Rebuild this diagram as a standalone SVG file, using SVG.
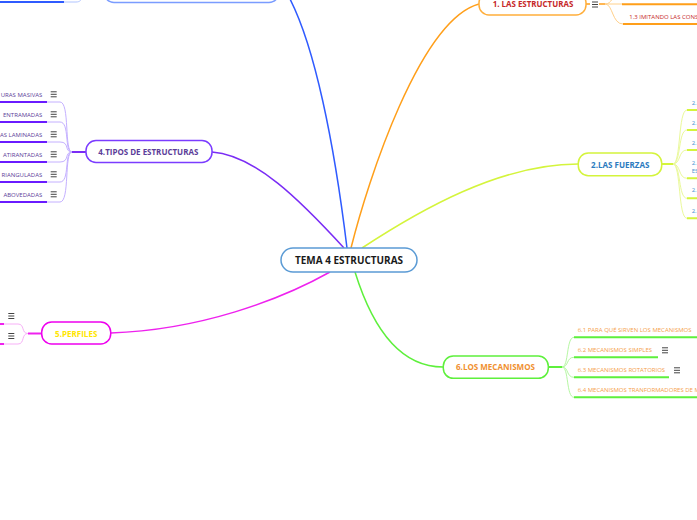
<svg xmlns="http://www.w3.org/2000/svg" xmlns:xlink="http://www.w3.org/1999/xlink" width="697" height="520" viewBox="0 0 697 520">
<style>
text{font-family:"Open Sans","Liberation Sans",sans-serif}
.t{font-weight:bold;font-size:8px;text-anchor:middle}
.s{font-size:6px}
.node{fill:#fff;stroke-width:1.5}
.main{fill:none;stroke-width:1.5}
.lt{fill:none;stroke-width:1}
.st{fill:none;stroke-width:2}
</style>
<defs>
<symbol id="menu" viewBox="0 0 6 6" overflow="visible">
<path d="M0,0.5H6M0,3H6M0,5.5H6" stroke="#444" stroke-width="1" fill="none"/>
</symbol>
</defs>
<rect width="697" height="520" fill="#fff"/>
<g id="connectors">
<path class="main" stroke="#7a2cf5" d="M212,152 C255,155 300,200 344,248"/>
<path class="main" stroke="#2f5bff" d="M347,248 C335,150 315,40 285,-10"/>
<path class="main" stroke="#ff9f1a" d="M351,248 C368,180 420,20 479,4"/>
<path class="main" stroke="#d4f43c" d="M362,248 C420,210 500,164 578,164"/>
<path class="main" stroke="#ee22ee" d="M110.7,333 C200,330 280,300 330,272"/>
<path class="main" stroke="#5ef03c" d="M355,272 C370,320 395,367 443,367"/>
<!-- 4 children -->
<path class="st" stroke="#7a2cf5" d="M86,152H72"/>
<g stroke="#c4b0ff" class="lt">
<path d="M72,152 C64,152 70,102 60,102H47"/>
<path d="M72,152 C64,152 70,122 60,122H47"/>
<path d="M72,152 C64,152 70,142 60,142H47"/>
<path d="M72,152 C64,152 70,162 60,162H47"/>
<path d="M72,152 C64,152 70,182 60,182H47"/>
<path d="M72,152 C64,152 70,202 60,202H47"/>
</g>
<g stroke="#6a1bff" class="st">
<path d="M0,102H47M0,122H47M0,142H47M0,162H47M0,182H47M0,202H47"/>
</g>
<!-- 5 children -->
<path class="st" stroke="#ee22ee" d="M41.7,333.5H28"/>
<g stroke="#f7b0f7" class="lt">
<path d="M28,333.5 C21,333.5 25,324 18,324H4"/>
<path d="M28,333.5 C21,333.5 25,344 18,344H4"/>
</g>
<path class="st" stroke="#ee22ee" d="M0,324H4M0,344H4"/>
<!-- 6 children -->
<path class="st" stroke="#5ef03c" d="M548.3,367H562"/>
<g stroke="#b6f7a3" class="lt">
<path d="M562,367 C569,367 566,337.3 574,337.3"/>
<path d="M562,367 C569,367 566,357.3 574,357.3"/>
<path d="M562,367 C569,367 566,377.3 574,377.3"/>
<path d="M562,367 C569,367 566,397.3 574,397.3"/>
</g>
<g stroke="#5ef03c" class="st">
<path d="M574,337.3H697M574,357.3H658M574,377.3H669M574,397.3H697"/>
</g>
<!-- 2 children -->
<path class="st" stroke="#d4f43c" d="M661.7,164H673"/>
<g stroke="#eaf99a" class="lt">
<path d="M673,164 C681,164 678,110 687,110"/>
<path d="M673,164 C681,164 678,130 687,130"/>
<path d="M673,164 C681,164 678,150 687,150"/>
<path d="M673,164 C681,164 678,178.3 687,178.3"/>
<path d="M673,164 C681,164 678,198.3 687,198.3"/>
<path d="M673,164 C681,164 678,218.3 687,218.3"/>
</g>
<g stroke="#d4f43c" class="st">
<path d="M687,110H697M687,130H697M687,150H697M687,178.3H697M687,198.3H697M687,218.3H697"/>
</g>
<!-- 1 children -->
<path class="main" stroke="#ff9f1a" d="M586,4H590M599,4H605"/>
<g stroke="#ffd08a" class="lt">
<path d="M605,4 C612,4 612,-4 620,-10"/>
<path d="M605,4 H623"/>
<path d="M605,4 C613,4 612,24 623,24"/>
</g>
<path class="st" stroke="#ff9f1a" d="M622,4.3H697M623,24H697"/>
<!-- top blue node child -->
<path class="st" stroke="#2f5bff" d="M0,2H64"/>
<path class="lt" stroke="#b0c4ff" d="M64,2H76 C80,2 82,0 83,-6"/>
</g>
<g id="node-center">
<rect class="node" x="281" y="248" width="136" height="24" rx="12" stroke="#5b9bd5"/>
<text class="t" x="349" y="264" style="font-size:10px" fill="#1a1a1a" textLength="108" lengthAdjust="spacingAndGlyphs">TEMA 4 ESTRUCTURAS</text>
</g>
<g id="node-top">
<rect class="node" x="104" y="-19.5" width="175" height="22" rx="10" stroke="#7a9cff"/>
</g>
<g id="node-1">
<rect class="node" x="479" y="-7" width="107" height="22" rx="10" stroke="#ffae3b"/>
<text class="t" x="533" y="6.7" fill="#c62828" textLength="80.6" lengthAdjust="spacingAndGlyphs">1. LAS ESTRUCTURAS</text>
<use xlink:href="#menu" x="592" y="1.5" width="6" height="6" style="stroke:#335f55"/>
<text class="s" x="629.3" y="18.5" fill="#c62828">1.3 IMITANDO LAS CONS</text>
</g>
<g id="node-2">
<rect class="node" x="578.3" y="153" width="83.4" height="22.7" rx="10" stroke="#d4f43c"/>
<text class="t" x="620.2" y="167.7" fill="#2b7bbf" textLength="58.3" lengthAdjust="spacingAndGlyphs">2.LAS FUERZAS</text>
<g class="s" fill="#3d8fd0">
<text x="691.7" y="105">2.</text>
<text x="691.7" y="124.7">2.</text>
<text x="691.7" y="144.7">2.</text>
<text x="691.7" y="164.7">2.</text>
<text x="691.7" y="173">ES</text>
<text x="691.7" y="192.3">2.</text>
<text x="691.7" y="213">2.</text>
</g>
</g>
<g id="node-4">
<rect class="node" x="86" y="140.5" width="126" height="22" rx="10" stroke="#7b3cff"/>
<text class="t" x="148.3" y="155" fill="#5c3d99" textLength="100" lengthAdjust="spacingAndGlyphs">4.TIPOS DE ESTRUCTURAS</text>
<g class="s" fill="#5c3d99" text-anchor="end">
<text x="42.3" y="96.7">URAS MASIVAS</text>
<text x="42.3" y="116.7">ENTRAMADAS</text>
<text x="42.3" y="136.7">AS LAMINADAS</text>
<text x="42.3" y="156.7">ATIRANTADAS</text>
<text x="42.3" y="176.7">RIANGULADAS</text>
<text x="42.3" y="196.7">ABOVEDADAS</text>
</g>
<use xlink:href="#menu" x="50.7" y="91.3" width="6" height="6"/>
<use xlink:href="#menu" x="50.7" y="111.3" width="6" height="6"/>
<use xlink:href="#menu" x="50.7" y="131.3" width="6" height="6"/>
<use xlink:href="#menu" x="50.7" y="151.3" width="6" height="6"/>
<use xlink:href="#menu" x="50.7" y="171.3" width="6" height="6"/>
<use xlink:href="#menu" x="50.7" y="191.3" width="6" height="6"/>
</g>
<g id="node-5">
<rect class="node" x="41.7" y="322" width="69" height="22" rx="10" stroke="#ee00ee"/>
<text class="t" x="76.2" y="336.7" fill="#ffe600" textLength="42.3" lengthAdjust="spacingAndGlyphs">5.PERFILES</text>
<use xlink:href="#menu" x="8.3" y="313" width="6" height="6"/>
<use xlink:href="#menu" x="8.3" y="333" width="6" height="6"/>
</g>
<g id="node-6">
<rect class="node" x="443.3" y="356" width="105" height="22.3" rx="10" stroke="#5ef03c"/>
<text class="t" x="495.5" y="370" fill="#f09030" textLength="79" lengthAdjust="spacingAndGlyphs">6.LOS MECANISMOS</text>
<g class="s" fill="#f5a04a">
<text x="577.7" y="332">6.1 PARA QUÉ SIRVEN LOS MECANISMOS</text>
<text x="577.7" y="352">6.2 MECANISMOS SIMPLES</text>
<text x="577.7" y="372">6.3 MECANISMOS ROTATORIOS</text>
<text x="577.7" y="392">6.4 MECANISMOS TRANFORMADORES DE M</text>
</g>
<use xlink:href="#menu" x="662" y="347.3" width="6" height="6"/>
<use xlink:href="#menu" x="674" y="367.3" width="6" height="6"/>
</g>
</svg>
